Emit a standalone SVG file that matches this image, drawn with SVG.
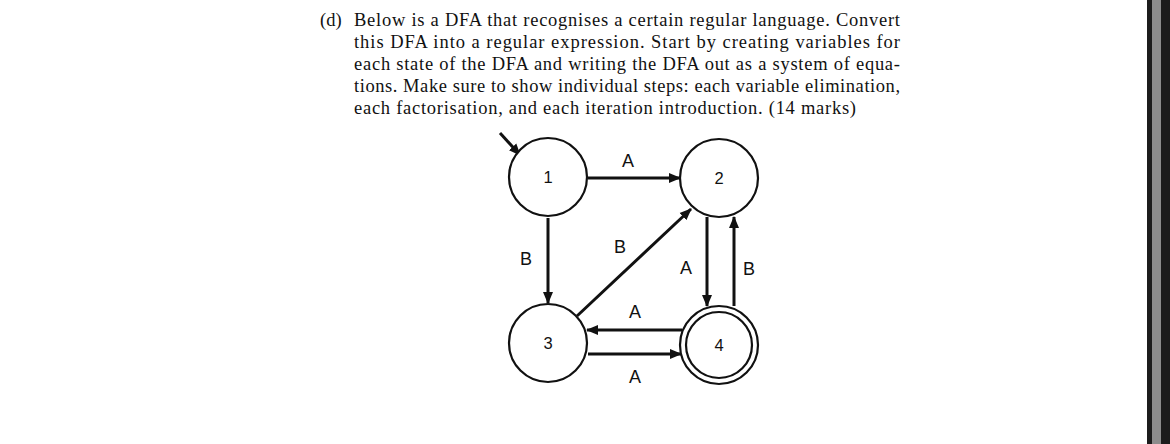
<svg xmlns="http://www.w3.org/2000/svg" width="1170" height="444" viewBox="0 0 1170 444">
<style>
.t{font-family:"Liberation Serif",serif;font-size:18.5px;fill:#111}
.n{font-family:"Liberation Sans",Arial,sans-serif;font-size:16.5px;fill:#111;text-anchor:middle}
.l{font-family:"Liberation Sans",Arial,sans-serif;font-size:18px;fill:#111;text-anchor:middle}
circle{fill:#fff;stroke:#111;stroke-width:2.2}
.e line{stroke:#111;stroke-width:3}
</style>
<defs><marker id="ah" markerWidth="12" markerHeight="12" refX="11" refY="6" orient="auto" markerUnits="userSpaceOnUse" viewBox="0 0 12 12"><path d="M0,1L12,6L0,11z" fill="#111"/></marker></defs>
<rect width="1170" height="444" fill="#fff"/>
<rect x="1147" y="0" width="23" height="444" fill="#1c1c1c"/>
<rect x="1152" y="0" width="9" height="444" fill="#8c8c8c"/>
<text class="t" x="320" y="26">(d)</text>
<text class="t" x="354" y="26" textLength="546" lengthAdjust="spacing">Below is a DFA that recognises a certain regular language. Convert</text>
<text class="t" x="354" y="48" textLength="546" lengthAdjust="spacing">this DFA into a regular expression. Start by creating variables for</text>
<text class="t" x="354" y="70" textLength="546" lengthAdjust="spacing">each state of the DFA and writing the DFA out as a system of equa-</text>
<text class="t" x="354" y="92" textLength="546" lengthAdjust="spacing">tions. Make sure to show individual steps: each variable elimination,</text>
<text class="t" x="354" y="114" textLength="502" lengthAdjust="spacing">each factorisation, and each iteration introduction. (14 marks)</text>
<g class="e" id="connectors">
<line x1="500" y1="133" x2="520" y2="155" marker-end="url(#ah)"/>
<line x1="588" y1="178" x2="680" y2="178" marker-end="url(#ah)"/>
<line x1="548" y1="218" x2="548" y2="303" marker-end="url(#ah)"/>
<line x1="577" y1="316" x2="691" y2="209" marker-end="url(#ah)"/>
<line x1="707" y1="217" x2="707" y2="306" marker-end="url(#ah)"/>
<line x1="734" y1="306" x2="734" y2="217" marker-end="url(#ah)"/>
<line x1="682" y1="330" x2="587" y2="330" marker-end="url(#ah)"/>
<line x1="588" y1="354" x2="681" y2="354" marker-end="url(#ah)"/>
<text class="l" x="628" y="167">A</text>
<text class="l" x="526" y="265">B</text>
<text class="l" x="620" y="253">B</text>
<text class="l" x="686" y="274">A</text>
<text class="l" x="749" y="275">B</text>
<text class="l" x="635" y="318">A</text>
<text class="l" x="635" y="383">A</text>
</g>
<g id="n1"><circle cx="548" cy="177" r="39"/><text class="n" x="548" y="183">1</text></g>
<g id="n2"><circle cx="719" cy="178" r="39"/><text class="n" x="719" y="184">2</text></g>
<g id="n3"><circle cx="548" cy="343" r="39"/><text class="n" x="548" y="349">3</text></g>
<g id="n4"><circle cx="719" cy="345" r="39"/><circle cx="719" cy="345" r="33"/><text class="n" x="719" y="351">4</text></g>
</svg>
